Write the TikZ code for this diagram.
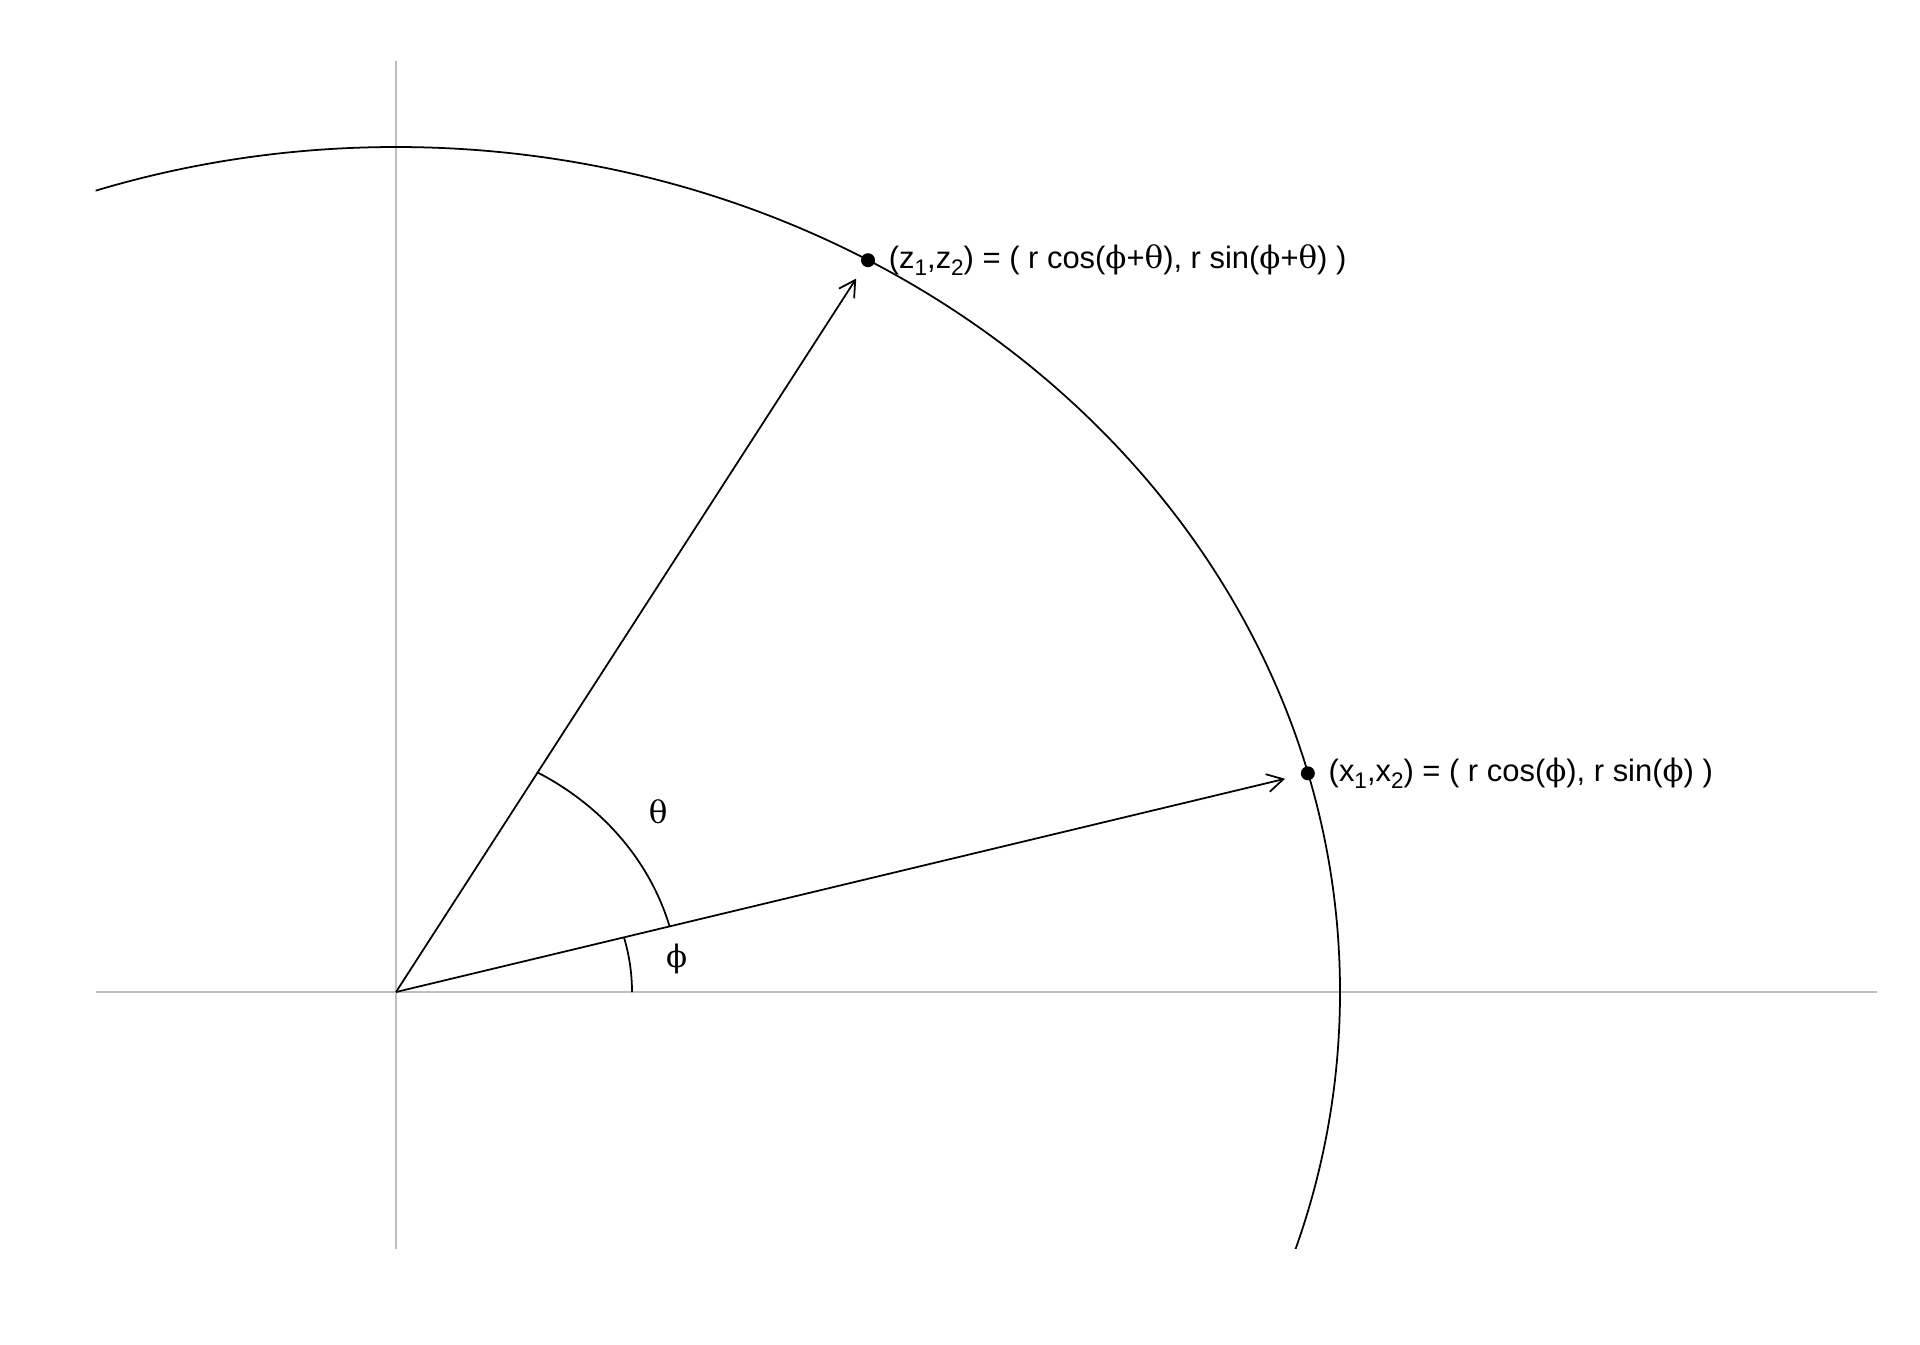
\documentclass[tikz,border=0pt]{standalone}
\usepackage{fontspec}
\setmainfont{Liberation Sans}
\newfontfamily\greek{DejaVu Serif}
\usetikzlibrary{arrows.meta}

\newcommand{\lo}[1]{\raisebox{-.45ex}{\fontsize{6.4}{7}\selectfont #1}}
\newcommand{\gph}{{\greek ϕ}}
\newcommand{\gth}{{\greek θ}}

\begin{document}
\begin{tikzpicture}[x=9.44cm,y=8.45cm,line width=.5pt,
>={Straight Barb[length=1.6mm,width=1.8mm]},
axis/.style={draw=gray!50,line width=.4pt},
dot/.style={circle,fill=black,inner sep=0pt,minimum size=1.4mm},
lab/.style={anchor=west,inner sep=0pt,xshift=2mm,font=\fontsize{8.8}{10}\selectfont},
ang/.style={inner sep=0pt,font=\fontsize{8.8}{10}\selectfont\greek}]
\useasboundingbox (-0.4195,-0.4166) rectangle (1.6144,1.1740);
\coordinate (O) at (0,0);
\coordinate (ll) at (-0.3183,-0.3041);
\coordinate (ur) at (1.5689,1.1015);
% axes
\draw[axis] (ll |- O) -- (ur |- O);
\draw[axis] (O |- ll) -- (O |- ur);
% circle, cut to the plot region
\begin{scope}
\clip (ll) rectangle (ur);
\draw (O) circle (1);
\end{scope}
\node (x) at (15:1) [dot] {};
\node (z) at (60:1) [dot] {};
\node (xl) at (x.center) [lab] {(x\lo{1},x\lo{2}) = ( r cos(\gph), r sin(\gph) )};
\node (zl) at (z.center) [lab] {(z\lo{1},z\lo{2}) = ( r cos(\gph+\gth), r sin(\gph+\gth) )};
\coordinate (xtip) at (15:0.975);
\coordinate (ztip) at (60:0.975);
\draw[->] (O) -- (xtip);
\draw[->] (O) -- (ztip);
% angles
\draw (0:0.25) arc[start angle=0,end angle=15,radius=0.25];
\draw (15:0.3) arc[start angle=15,end angle=60,radius=0.3];
\node (ph) at (7.5:0.3) [ang] {ϕ};
\node (th) at (37.5:0.35) [ang] {θ};
\end{tikzpicture}
\end{document}
